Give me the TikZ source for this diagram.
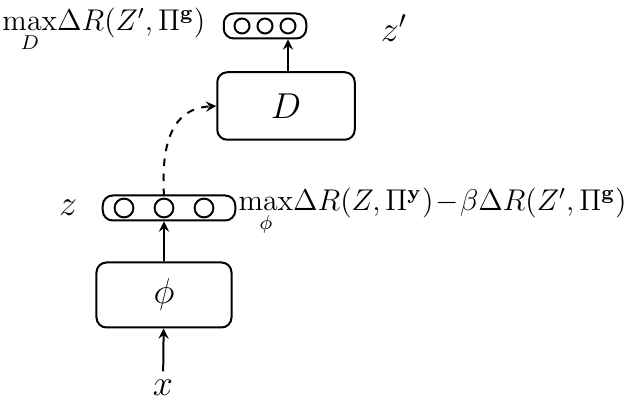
\documentclass[tikz,border=0pt]{standalone}
\usepackage{amsmath}
\begin{document}
\begin{tikzpicture}[x=0.4pt,y=-0.4pt,
  boxst/.style={draw,rounded corners=4pt,thick},
  vecst/.style={draw,rounded corners=4pt,thick},
  circst/.style={draw,circle,thick,minimum size=6pt,inner sep=0pt},
  arr/.style={-stealth,thick}]
\useasboundingbox (0,0) rectangle (641,405);
\node[boxst,minimum width=55pt,minimum height=27pt] (D) at (286,106) {\Large $D$};
\node[vecst,minimum width=33pt,minimum height=10pt] (zp) at (265,26) {};
\node[circst] (c1) at (242,26) {};
\node[circst] (c2) at (265,26) {};
\node[circst] (c3) at (288,26) {};
\node (zpl) at (394,28) {\Large $z'$};
\node[anchor=west,inner sep=0pt] (f1) at (2,30) {\large $\max\limits_{D}\!\Delta R(Z',\Pi^{\mathbf g})$};
\node[boxst,minimum width=54pt,minimum height=26pt] (phi) at (164,295) {\Large $\phi$};
\node[vecst,minimum width=53pt,minimum height=10pt] (z) at (169,208) {};
\node[circst,minimum size=7.5pt] (d1) at (124,208) {};
\node[circst,minimum size=7.5pt] (d2) at (164,208) {};
\node[circst,minimum size=7.5pt] (d3) at (204,208) {};
\node (zl) at (68,208) {\Large $z$};
\node[anchor=west,inner sep=0pt] (f2) at (238,212) {\large $\max\limits_{\phi}\!\Delta R(Z,\Pi^{\mathbf y})\!-\!\beta\Delta R(Z',\Pi^{\mathbf g})$};
\node (x) at (163,388) {\Large $x$};
\draw[arr] (x) -- (phi);
\draw[arr] (phi.north) -- (phi.north |- z.south);
\draw[arr,dashed] (164,196) .. controls (160,130) and (180,108) .. (D.west);
\draw[arr] (D.north -| c3) -- (zp.south -| c3);
\end{tikzpicture}
\end{document}
